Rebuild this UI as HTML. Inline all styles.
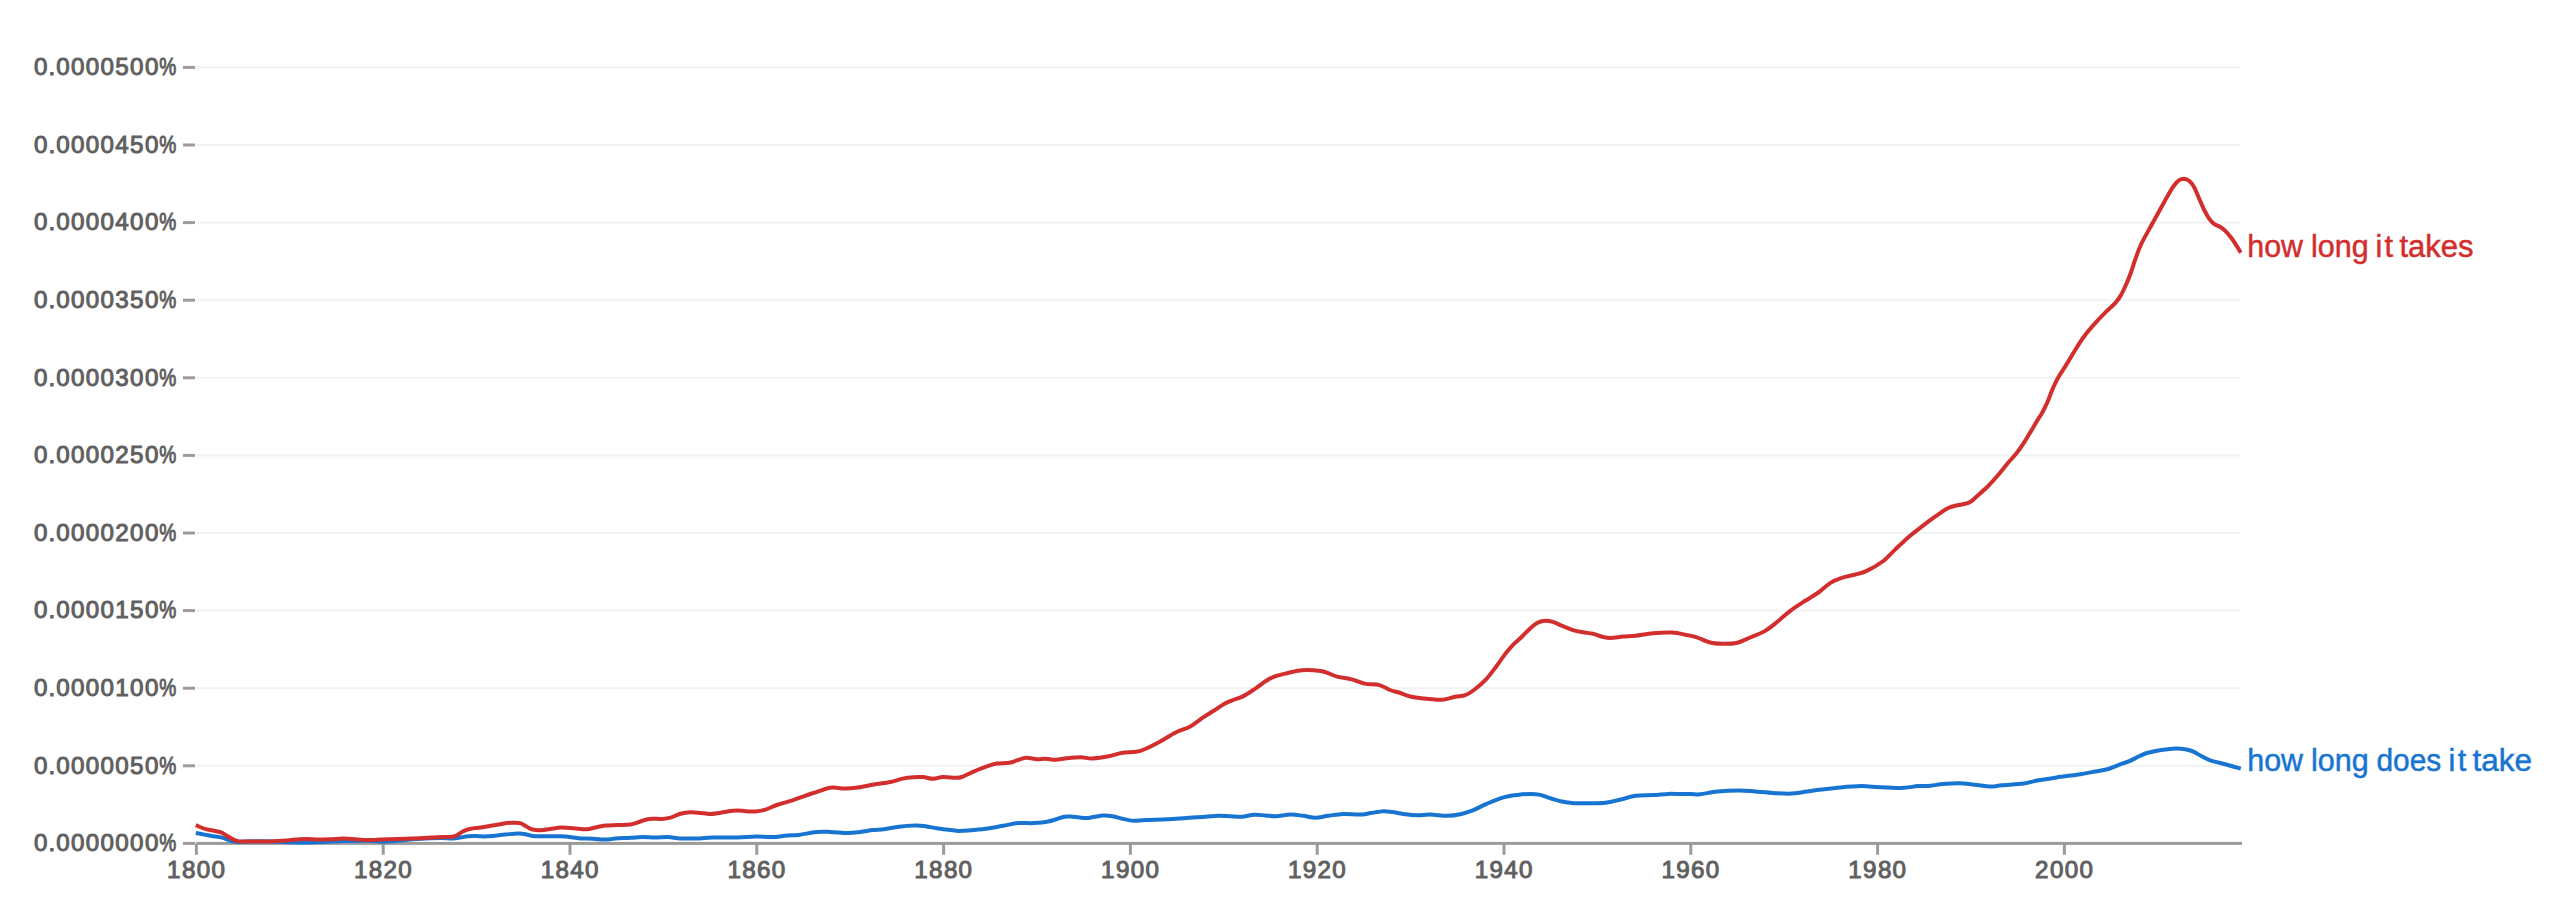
<!DOCTYPE html>
<html lang="en"><head><meta charset="utf-8"><title>Ngram</title>
<style>html,body{margin:0;padding:0;background:#fff;}svg{display:block;}text{font-family:"Liberation Sans",sans-serif;}.ax{fill:#606060;stroke:#606060;stroke-width:1px;font-size:24.2px;}.lb{font-size:30.6px;}</style></head><body>
<svg width="2560" height="902" viewBox="0 0 2560 902">
<rect width="2560" height="902" fill="#fff"/>
<rect x="196.3" y="764.8" width="2044.7" height="2" fill="#f2f2f2"/>
<rect x="196.3" y="687.2" width="2044.7" height="2" fill="#f2f2f2"/>
<rect x="196.3" y="609.6" width="2044.7" height="2" fill="#f2f2f2"/>
<rect x="196.3" y="532.0" width="2044.7" height="2" fill="#f2f2f2"/>
<rect x="196.3" y="454.4" width="2044.7" height="2" fill="#f2f2f2"/>
<rect x="196.3" y="376.8" width="2044.7" height="2" fill="#f2f2f2"/>
<rect x="196.3" y="299.2" width="2044.7" height="2" fill="#f2f2f2"/>
<rect x="196.3" y="221.6" width="2044.7" height="2" fill="#f2f2f2"/>
<rect x="196.3" y="144.0" width="2044.7" height="2" fill="#f2f2f2"/>
<rect x="196.3" y="66.4" width="2044.7" height="2" fill="#f2f2f2"/>
<rect x="183" y="841.9" width="12" height="3" fill="#9b9b9b"/>
<text class="ax" x="34.1 48.6 56.3 71.0 85.8 100.6 115.3 130.1 144.9 159.2" y="851.1">0.0000000<tspan textLength="17" lengthAdjust="spacingAndGlyphs">%</tspan></text>
<rect x="183" y="764.3" width="12" height="3" fill="#9b9b9b"/>
<text class="ax" x="34.1 48.6 56.3 71.0 85.8 100.6 115.3 130.1 144.9 159.2" y="773.5">0.0000050<tspan textLength="17" lengthAdjust="spacingAndGlyphs">%</tspan></text>
<rect x="183" y="686.7" width="12" height="3" fill="#9b9b9b"/>
<text class="ax" x="34.1 48.6 56.3 71.0 85.8 100.6 115.3 130.1 144.9 159.2" y="695.9">0.0000100<tspan textLength="17" lengthAdjust="spacingAndGlyphs">%</tspan></text>
<rect x="183" y="609.1" width="12" height="3" fill="#9b9b9b"/>
<text class="ax" x="34.1 48.6 56.3 71.0 85.8 100.6 115.3 130.1 144.9 159.2" y="618.3">0.0000150<tspan textLength="17" lengthAdjust="spacingAndGlyphs">%</tspan></text>
<rect x="183" y="531.5" width="12" height="3" fill="#9b9b9b"/>
<text class="ax" x="34.1 48.6 56.3 71.0 85.8 100.6 115.3 130.1 144.9 159.2" y="540.7">0.0000200<tspan textLength="17" lengthAdjust="spacingAndGlyphs">%</tspan></text>
<rect x="183" y="453.9" width="12" height="3" fill="#9b9b9b"/>
<text class="ax" x="34.1 48.6 56.3 71.0 85.8 100.6 115.3 130.1 144.9 159.2" y="463.1">0.0000250<tspan textLength="17" lengthAdjust="spacingAndGlyphs">%</tspan></text>
<rect x="183" y="376.3" width="12" height="3" fill="#9b9b9b"/>
<text class="ax" x="34.1 48.6 56.3 71.0 85.8 100.6 115.3 130.1 144.9 159.2" y="385.5">0.0000300<tspan textLength="17" lengthAdjust="spacingAndGlyphs">%</tspan></text>
<rect x="183" y="298.7" width="12" height="3" fill="#9b9b9b"/>
<text class="ax" x="34.1 48.6 56.3 71.0 85.8 100.6 115.3 130.1 144.9 159.2" y="307.9">0.0000350<tspan textLength="17" lengthAdjust="spacingAndGlyphs">%</tspan></text>
<rect x="183" y="221.1" width="12" height="3" fill="#9b9b9b"/>
<text class="ax" x="34.1 48.6 56.3 71.0 85.8 100.6 115.3 130.1 144.9 159.2" y="230.3">0.0000400<tspan textLength="17" lengthAdjust="spacingAndGlyphs">%</tspan></text>
<rect x="183" y="143.5" width="12" height="3" fill="#9b9b9b"/>
<text class="ax" x="34.1 48.6 56.3 71.0 85.8 100.6 115.3 130.1 144.9 159.2" y="152.7">0.0000450<tspan textLength="17" lengthAdjust="spacingAndGlyphs">%</tspan></text>
<rect x="183" y="65.9" width="12" height="3" fill="#9b9b9b"/>
<text class="ax" x="34.1 48.6 56.3 71.0 85.8 100.6 115.3 130.1 144.9 159.2" y="75.1">0.0000500<tspan textLength="17" lengthAdjust="spacingAndGlyphs">%</tspan></text>
<rect x="196.4" y="841.9" width="2045.6" height="3" fill="#9b9b9b"/>
<rect x="194.9" y="843.4" width="3" height="11.4" fill="#9b9b9b"/>
<text class="ax" x="167.1 181.9 196.7 211.4" y="877.9">1800</text>
<rect x="381.7" y="843.4" width="3" height="11.4" fill="#9b9b9b"/>
<text class="ax" x="353.9 368.7 383.5 398.2" y="877.9">1820</text>
<rect x="568.5" y="843.4" width="3" height="11.4" fill="#9b9b9b"/>
<text class="ax" x="540.7 555.5 570.3 585.0" y="877.9">1840</text>
<rect x="755.3" y="843.4" width="3" height="11.4" fill="#9b9b9b"/>
<text class="ax" x="727.5 742.3 757.1 771.8" y="877.9">1860</text>
<rect x="942.1" y="843.4" width="3" height="11.4" fill="#9b9b9b"/>
<text class="ax" x="914.3 929.1 943.9 958.6" y="877.9">1880</text>
<rect x="1128.9" y="843.4" width="3" height="11.4" fill="#9b9b9b"/>
<text class="ax" x="1101.1 1115.9 1130.7 1145.4" y="877.9">1900</text>
<rect x="1315.7" y="843.4" width="3" height="11.4" fill="#9b9b9b"/>
<text class="ax" x="1287.9 1302.7 1317.5 1332.2" y="877.9">1920</text>
<rect x="1502.5" y="843.4" width="3" height="11.4" fill="#9b9b9b"/>
<text class="ax" x="1474.7 1489.5 1504.3 1519.0" y="877.9">1940</text>
<rect x="1689.3" y="843.4" width="3" height="11.4" fill="#9b9b9b"/>
<text class="ax" x="1661.5 1676.3 1691.1 1705.8" y="877.9">1960</text>
<rect x="1876.1" y="843.4" width="3" height="11.4" fill="#9b9b9b"/>
<text class="ax" x="1848.3 1863.1 1877.9 1892.6" y="877.9">1980</text>
<rect x="2062.9" y="843.4" width="3" height="11.4" fill="#9b9b9b"/>
<text class="ax" x="2035.1 2049.9 2064.7 2079.4" y="877.9">2000</text>
<path d="M195.8,832.9C197.1,833.1 200.9,833.9 203.5,834.4C206.1,834.9 208.7,835.6 211.3,836.0C213.9,836.4 217.1,836.7 219.0,837.0C220.9,837.3 221.6,837.5 222.9,837.9C224.2,838.3 225.5,838.9 226.8,839.4C228.1,839.9 229.4,840.4 230.7,840.8C232.0,841.2 233.3,841.4 234.6,841.6C235.9,841.8 236.7,842.0 238.4,842.0C240.1,842.0 241.7,841.5 245.0,841.4C248.3,841.3 253.8,841.3 258.0,841.3C262.2,841.3 266.3,841.4 270.0,841.5C273.7,841.6 276.3,841.7 280.0,841.8C283.7,841.9 287.7,842.1 292.0,842.2C296.3,842.3 301.7,842.4 306.0,842.4C310.3,842.4 314.0,842.2 318.0,842.1C322.0,842.0 326.0,841.8 330.0,841.6C334.0,841.4 337.8,841.1 342.0,841.0C346.2,840.9 350.7,840.9 355.0,840.9C359.3,840.9 363.4,840.7 368.0,840.8C372.6,840.9 378.5,841.6 382.5,841.7C386.5,841.8 388.7,841.5 392.0,841.2C395.3,841.0 397.7,840.6 402.5,840.2C407.3,839.8 414.8,839.2 421.0,838.8C427.2,838.4 434.8,838.1 440.0,838.0C445.2,837.9 449.2,838.5 452.5,838.4C455.8,838.3 457.4,838.0 460.0,837.6C462.6,837.2 465.3,836.5 468.0,836.3C470.7,836.0 473.4,836.1 476.0,836.1C478.6,836.1 481.1,836.4 483.8,836.4C486.6,836.4 489.0,836.3 492.5,836.0C496.0,835.7 500.8,835.0 505.0,834.6C509.2,834.2 514.5,833.5 517.6,833.4C520.8,833.3 521.4,833.6 523.9,834.0C526.4,834.4 529.5,835.5 532.6,835.9C535.7,836.3 537.9,836.2 542.7,836.2C547.5,836.2 556.9,836.1 561.5,836.2C566.1,836.4 567.1,836.7 570.2,837.1C573.3,837.5 576.5,838.1 580.3,838.4C584.1,838.7 588.6,838.5 592.8,838.7C597.0,838.9 601.5,839.6 605.3,839.6C609.0,839.6 611.1,838.9 615.3,838.6C619.5,838.3 625.8,838.0 630.4,837.7C635.0,837.5 638.7,837.1 642.9,837.1C647.1,837.1 651.2,837.5 655.4,837.5C659.6,837.5 663.8,837.0 668.0,837.1C672.2,837.2 675.3,838.2 680.5,838.4C685.7,838.6 694.1,838.5 699.3,838.4C704.5,838.2 705.5,837.6 711.8,837.5C718.1,837.4 729.6,837.7 736.9,837.5C744.2,837.3 749.9,836.6 755.7,836.5C761.6,836.4 766.8,837.3 772.0,837.1C777.2,836.9 782.5,835.9 787.0,835.5C791.5,835.1 793.9,835.5 798.8,834.9C803.7,834.3 811.1,832.6 816.3,832.1C821.5,831.6 824.9,831.8 830.1,831.9C835.3,832.0 842.7,833.0 847.7,833.0C852.7,833.0 856.0,832.4 860.2,831.9C864.4,831.4 868.7,830.5 872.7,830.0C876.7,829.5 879.6,829.8 884.0,829.2C888.4,828.7 893.8,827.3 899.0,826.7C904.2,826.1 910.9,825.7 915.3,825.6C919.7,825.5 921.8,825.8 925.4,826.2C929.0,826.7 933.0,827.7 936.6,828.3C940.2,828.9 943.2,829.2 946.7,829.6C950.2,830.0 954.4,830.8 957.9,830.9C961.4,831.0 963.4,830.9 968.0,830.5C972.6,830.1 979.6,829.5 985.5,828.7C991.4,827.9 997.7,826.7 1003.1,825.8C1008.5,824.9 1012.9,823.5 1018.1,823.1C1023.3,822.7 1029.4,823.4 1034.4,823.1C1039.4,822.8 1043.2,822.5 1048.2,821.5C1053.2,820.5 1060.3,817.6 1064.5,816.8C1068.7,816.0 1070.1,816.6 1073.2,816.8C1076.3,817.0 1080.5,817.8 1083.3,817.9C1086.1,818.0 1086.8,818.1 1090.0,817.7C1093.2,817.3 1098.8,815.9 1102.6,815.6C1106.4,815.4 1109.3,815.7 1112.6,816.2C1115.9,816.7 1119.0,817.9 1122.6,818.7C1126.1,819.5 1130.1,820.6 1133.9,820.8C1137.7,821.0 1139.6,820.3 1145.2,820.0C1150.8,819.7 1160.8,819.6 1167.7,819.2C1174.6,818.9 1180.2,818.3 1186.5,817.9C1192.8,817.5 1200.1,817.1 1205.3,816.7C1210.5,816.4 1213.6,815.9 1217.8,815.8C1222.0,815.7 1226.4,816.1 1230.4,816.2C1234.4,816.4 1237.7,816.9 1241.7,816.7C1245.7,816.5 1250.2,815.0 1254.2,814.8C1258.2,814.6 1262.0,815.2 1265.5,815.4C1269.0,815.6 1271.3,816.3 1275.5,816.2C1279.7,816.1 1285.9,814.7 1290.5,814.6C1295.1,814.5 1298.9,815.3 1303.1,815.8C1307.3,816.3 1311.4,817.7 1315.6,817.7C1319.8,817.7 1323.5,816.4 1328.1,815.8C1332.7,815.2 1338.0,814.1 1343.2,813.9C1348.4,813.7 1354.8,814.7 1359.4,814.6C1364.0,814.5 1366.7,813.7 1370.7,813.1C1374.7,812.5 1379.7,811.4 1383.3,811.2C1386.9,811.0 1388.9,811.6 1392.5,812.1C1396.1,812.6 1400.9,813.7 1405.1,814.2C1409.3,814.7 1413.4,815.1 1417.6,815.2C1421.8,815.3 1425.1,814.5 1430.1,814.6C1435.1,814.7 1442.7,815.9 1447.7,815.8C1452.7,815.7 1456.0,815.1 1460.2,814.2C1464.4,813.3 1468.3,812.1 1472.7,810.4C1477.1,808.7 1481.5,806.0 1486.5,803.9C1491.5,801.8 1497.6,799.1 1502.8,797.6C1508.0,796.1 1513.2,795.5 1517.8,794.9C1522.4,794.3 1526.6,793.9 1530.4,793.9C1534.2,793.9 1537.3,794.2 1540.4,794.9C1543.5,795.6 1545.9,796.8 1549.2,797.9C1552.5,799.0 1556.8,800.4 1560.5,801.2C1564.2,802.1 1567.3,802.6 1571.7,803.0C1576.1,803.4 1581.2,803.3 1586.8,803.3C1592.4,803.2 1600.0,803.3 1605.6,802.7C1611.2,802.1 1615.6,800.6 1620.6,799.5C1625.6,798.4 1630.2,796.5 1635.6,795.8C1641.0,795.1 1647.8,795.4 1653.2,795.1C1658.6,794.8 1663.6,794.1 1668.2,793.9C1672.8,793.7 1677.0,794.1 1680.8,794.1C1684.6,794.1 1688.1,793.9 1691.3,793.9C1694.5,793.9 1695.6,794.7 1700.0,794.3C1704.4,793.9 1711.1,792.0 1717.6,791.4C1724.1,790.8 1732.6,790.4 1738.9,790.4C1745.2,790.4 1748.7,790.9 1755.2,791.4C1761.7,791.9 1771.7,792.9 1777.7,793.3C1783.8,793.7 1786.9,793.9 1791.5,793.6C1796.1,793.4 1800.3,792.5 1805.3,791.8C1810.3,791.1 1815.8,790.2 1821.6,789.5C1827.4,788.8 1833.7,788.0 1840.4,787.4C1847.1,786.8 1855.9,786.2 1861.7,786.1C1867.5,786.0 1869.0,786.7 1875.5,787.0C1882.0,787.3 1893.5,788.1 1900.6,788.0C1907.7,787.9 1913.1,786.5 1918.1,786.1C1923.1,785.7 1926.4,786.1 1930.6,785.7C1934.8,785.3 1938.4,784.3 1943.2,783.9C1948.0,783.5 1954.2,783.1 1959.4,783.2C1964.6,783.3 1969.2,784.2 1974.5,784.7C1979.8,785.2 1986.4,786.4 1991.0,786.5C1995.6,786.6 1996.5,785.7 2002.0,785.2C2007.5,784.7 2018.1,784.4 2023.9,783.6C2029.8,782.8 2031.6,781.5 2037.1,780.5C2042.6,779.5 2049.9,778.4 2056.8,777.4C2063.8,776.4 2072.4,775.5 2078.8,774.5C2085.2,773.5 2090.4,772.4 2095.3,771.5C2100.2,770.6 2104.6,770.1 2108.4,769.0C2112.2,767.9 2114.8,766.4 2118.3,765.1C2121.8,763.8 2125.8,762.6 2129.3,761.1C2132.8,759.6 2136.1,757.7 2139.2,756.3C2142.3,754.9 2144.2,753.8 2147.9,752.8C2151.6,751.8 2156.5,750.7 2161.1,750.0C2165.7,749.3 2171.4,748.5 2175.4,748.4C2179.4,748.3 2182.4,748.7 2185.3,749.2C2188.2,749.7 2190.3,750.2 2193.0,751.4C2195.7,752.6 2198.8,754.8 2201.7,756.3C2204.6,757.8 2207.6,759.4 2210.5,760.5C2213.4,761.6 2216.0,761.8 2219.3,762.7C2222.6,763.6 2226.7,764.7 2230.3,765.7C2233.9,766.7 2239.1,768.1 2240.8,768.6" fill="none" stroke="#1874d1" stroke-width="4" stroke-linejoin="round"/>
<path d="M195.8,825.2C197.1,825.7 200.9,827.4 203.5,828.3C206.1,829.1 208.7,829.7 211.3,830.3C213.9,830.9 217.1,831.3 219.0,831.8C220.9,832.3 221.6,832.5 222.9,833.2C224.2,833.9 225.5,835.0 226.8,835.8C228.1,836.6 229.4,837.4 230.7,838.1C232.0,838.8 233.3,839.7 234.6,840.2C235.9,840.7 237.1,841.0 238.4,841.2C239.7,841.4 237.4,841.5 242.3,841.5C247.2,841.5 260.3,841.6 267.7,841.4C275.1,841.2 281.3,840.9 286.5,840.5C291.7,840.1 295.4,839.5 299.0,839.3C302.6,839.0 304.7,839.0 307.8,839.0C310.9,839.0 314.0,839.4 317.8,839.4C321.6,839.4 326.2,839.3 330.4,839.2C334.6,839.1 338.7,838.6 342.9,838.6C347.1,838.6 351.6,839.0 355.4,839.2C359.2,839.4 362.4,839.9 365.5,840.0C368.6,840.1 370.6,840.0 374.2,839.9C377.8,839.8 381.6,839.4 386.8,839.2C392.0,839.0 399.3,838.9 405.6,838.7C411.9,838.5 419.2,838.4 424.4,838.1C429.6,837.9 432.7,837.4 436.9,837.2C441.1,837.0 446.3,837.2 449.4,837.0C452.5,836.8 453.4,836.9 455.7,835.9C458.0,834.9 460.7,832.4 463.2,831.2C465.7,830.0 467.8,829.3 470.7,828.7C473.6,828.1 477.2,828.0 480.8,827.5C484.4,827.0 488.9,826.1 492.5,825.5C496.1,824.9 499.2,824.2 502.6,823.7C506.0,823.2 509.7,822.8 512.6,822.7C515.5,822.6 517.8,822.5 520.1,823.1C522.4,823.7 524.3,825.4 526.4,826.5C528.5,827.6 530.3,828.9 532.6,829.5C534.9,830.1 537.3,830.3 540.2,830.2C543.1,830.1 546.7,829.5 550.2,829.0C553.8,828.5 557.5,827.6 561.5,827.5C565.5,827.4 569.8,827.9 574.0,828.2C578.2,828.5 583.0,829.3 586.5,829.2C590.0,829.1 592.2,828.1 595.3,827.5C598.4,826.9 601.5,825.9 605.3,825.5C609.0,825.1 613.6,825.2 617.8,825.0C622.0,824.8 626.6,825.1 630.4,824.5C634.2,823.9 637.3,822.4 640.4,821.5C643.5,820.6 645.7,819.3 649.2,818.9C652.8,818.5 658.2,819.1 661.7,818.9C665.2,818.7 667.4,818.6 670.5,817.7C673.6,816.8 677.2,814.6 680.5,813.7C683.8,812.8 687.1,812.3 690.5,812.2C693.9,812.1 697.2,812.6 700.6,812.9C704.0,813.2 706.6,814.0 710.6,813.9C714.6,813.8 720.2,812.7 724.4,812.1C728.6,811.5 732.0,810.5 735.6,810.4C739.2,810.2 742.4,811.0 745.7,811.2C749.1,811.4 752.6,811.6 755.7,811.4C758.8,811.2 760.8,811.0 764.5,809.9C768.2,808.8 773.5,806.1 778.2,804.5C782.9,802.9 788.0,801.9 792.5,800.4C797.0,798.9 800.8,797.3 805.0,795.8C809.2,794.3 813.8,792.9 817.6,791.6C821.4,790.3 824.9,788.9 827.6,788.2C830.3,787.5 831.0,787.5 833.9,787.6C836.8,787.7 841.2,788.6 845.2,788.6C849.2,788.6 852.9,788.3 857.7,787.6C862.5,786.9 868.6,785.4 874.0,784.5C879.4,783.6 885.5,783.0 890.3,782.0C895.1,781.0 899.0,779.4 902.8,778.6C906.5,777.8 909.4,777.5 912.8,777.3C916.1,777.0 919.4,776.9 922.9,777.1C926.4,777.4 930.2,778.8 933.5,778.8C936.8,778.8 939.2,777.2 942.9,777.0C946.5,776.8 952.3,777.8 955.4,777.8C958.5,777.8 958.6,778.1 961.7,777.0C964.8,775.9 970.0,773.1 974.2,771.3C978.4,769.5 983.0,767.6 986.8,766.3C990.6,765.0 993.0,764.2 996.8,763.6C1000.5,763.0 1005.8,763.4 1009.3,762.8C1012.8,762.2 1015.3,760.8 1018.1,760.0C1020.9,759.2 1023.1,757.9 1026.2,757.8C1029.3,757.7 1033.7,759.0 1036.9,759.2C1040.2,759.4 1042.6,758.7 1045.7,758.8C1048.8,758.9 1052.2,759.9 1055.7,759.8C1059.2,759.7 1062.8,758.6 1067.0,758.2C1071.2,757.8 1076.5,757.3 1080.8,757.3C1085.0,757.3 1087.8,758.6 1092.5,758.4C1097.2,758.2 1104.0,757.2 1108.8,756.3C1113.6,755.4 1116.8,753.8 1121.4,753.0C1126.0,752.2 1132.4,752.5 1136.4,751.8C1140.4,751.1 1141.2,750.7 1145.2,749.0C1149.2,747.3 1155.2,744.2 1160.2,741.5C1165.2,738.8 1170.2,735.2 1175.2,732.7C1180.2,730.2 1185.7,728.9 1190.3,726.4C1194.9,723.9 1198.8,720.4 1202.8,717.7C1206.8,715.1 1210.5,712.8 1214.1,710.5C1217.6,708.2 1221.0,705.6 1224.1,703.9C1227.2,702.2 1229.8,701.4 1232.9,700.1C1236.0,698.9 1239.2,698.3 1242.9,696.4C1246.7,694.5 1251.6,691.1 1255.4,688.6C1259.2,686.1 1262.4,683.3 1265.5,681.3C1268.6,679.3 1270.9,677.9 1274.2,676.6C1277.5,675.3 1281.5,674.6 1285.5,673.6C1289.5,672.6 1294.5,671.3 1298.0,670.7C1301.5,670.1 1303.0,670.0 1306.8,670.0C1310.6,670.0 1317.0,670.5 1320.6,671.0C1324.1,671.5 1325.2,672.2 1328.1,673.2C1331.0,674.2 1334.1,675.9 1338.1,676.9C1342.1,677.9 1347.5,678.3 1351.9,679.4C1356.3,680.5 1359.9,682.6 1364.5,683.6C1369.1,684.6 1375.2,684.0 1379.5,685.1C1383.8,686.2 1386.8,688.8 1390.0,690.0C1393.2,691.2 1395.2,691.4 1398.8,692.5C1402.3,693.6 1407.1,695.7 1411.3,696.7C1415.5,697.7 1419.9,698.1 1423.9,698.6C1427.9,699.1 1431.8,699.4 1435.1,699.6C1438.4,699.8 1440.6,700.1 1443.9,699.6C1447.2,699.1 1451.7,697.4 1455.2,696.7C1458.8,696.0 1462.1,696.3 1465.2,695.2C1468.3,694.1 1470.7,692.5 1474.0,690.0C1477.3,687.5 1481.8,683.9 1485.3,680.2C1488.8,676.5 1492.0,672.1 1495.3,667.7C1498.6,663.3 1502.4,657.7 1505.3,653.9C1508.2,650.1 1510.1,647.9 1512.8,645.1C1515.5,642.3 1518.7,639.8 1521.6,637.0C1524.5,634.2 1527.7,630.6 1530.4,628.2C1533.1,625.8 1535.4,623.9 1537.9,622.6C1540.4,621.4 1542.9,620.8 1545.4,620.7C1547.9,620.6 1550.2,621.1 1552.9,621.9C1555.6,622.7 1558.4,624.3 1561.7,625.7C1565.0,627.1 1569.5,629.0 1573.0,630.1C1576.5,631.2 1579.7,631.7 1583.0,632.3C1586.3,632.9 1589.7,633.0 1593.0,633.8C1596.3,634.6 1600.2,636.3 1603.1,637.0C1606.0,637.7 1607.3,638.1 1610.6,638.0C1613.9,637.9 1618.9,637.0 1623.1,636.6C1627.3,636.2 1630.6,636.3 1635.6,635.7C1640.6,635.1 1647.1,633.7 1653.2,633.2C1659.3,632.7 1666.6,632.3 1672.0,632.6C1677.4,632.9 1681.8,634.0 1685.8,634.8C1689.8,635.5 1692.2,635.8 1696.3,637.1C1700.3,638.4 1705.7,641.4 1710.1,642.5C1714.5,643.6 1718.2,643.7 1722.6,643.8C1727.0,643.9 1731.8,644.0 1736.4,643.0C1741.0,642.0 1745.4,639.5 1750.2,637.5C1755.0,635.5 1760.6,633.6 1765.2,630.9C1769.8,628.2 1773.5,624.9 1777.7,621.5C1781.9,618.1 1785.7,614.2 1790.3,610.8C1794.9,607.3 1800.5,603.9 1805.3,600.8C1810.1,597.7 1814.9,595.0 1819.1,592.0C1823.3,589.0 1826.6,585.3 1830.4,582.9C1834.2,580.5 1837.5,579.2 1841.7,577.8C1845.9,576.4 1851.2,575.6 1855.4,574.5C1859.6,573.4 1862.2,573.1 1866.7,570.9C1871.2,568.7 1877.9,565.0 1882.6,561.5C1887.3,558.0 1891.1,553.4 1895.1,549.6C1899.1,545.8 1902.7,542.2 1906.4,538.9C1910.2,535.6 1913.6,533.0 1917.6,529.9C1921.6,526.8 1926.4,522.9 1930.2,520.1C1934.0,517.3 1937.3,515.2 1940.2,513.2C1943.1,511.2 1945.2,509.4 1947.7,508.2C1950.2,506.9 1952.3,506.4 1955.2,505.7C1958.1,505.0 1962.8,504.4 1965.3,503.8C1967.8,503.2 1968.6,503.0 1970.5,501.8C1972.4,500.6 1973.7,499.1 1976.6,496.5C1979.5,493.9 1984.0,490.2 1987.7,486.5C1991.4,482.8 1995.5,478.2 1998.8,474.3C2002.1,470.4 2004.8,466.7 2007.7,463.2C2010.7,459.7 2013.7,456.8 2016.5,453.3C2019.3,449.8 2021.9,445.9 2024.3,442.2C2026.7,438.5 2028.9,434.6 2031.0,431.1C2033.1,427.6 2035.2,424.0 2037.0,421.0C2038.8,418.0 2040.2,416.3 2041.9,413.2C2043.6,410.1 2045.4,406.6 2047.2,402.6C2049.0,398.6 2050.7,393.4 2052.5,389.3C2054.3,385.2 2055.3,382.6 2057.8,378.2C2060.3,373.8 2064.2,368.2 2067.3,363.1C2070.4,358.0 2073.7,352.4 2076.6,347.8C2079.5,343.2 2081.5,339.9 2084.6,335.8C2087.7,331.7 2091.6,327.2 2095.2,323.2C2098.8,319.2 2102.6,315.2 2105.9,311.9C2109.2,308.6 2112.8,305.9 2115.2,303.2C2117.6,300.5 2118.7,298.9 2120.5,295.9C2122.3,292.9 2124.0,289.3 2125.8,285.3C2127.6,281.3 2129.5,276.4 2131.1,272.0C2132.7,267.6 2133.7,263.7 2135.4,259.0C2137.1,254.3 2138.6,249.5 2141.3,243.9C2144.0,238.3 2148.3,230.9 2151.4,225.2C2154.5,219.5 2157.4,214.4 2160.1,209.5C2162.8,204.6 2165.4,199.7 2167.7,195.7C2170.0,191.7 2172.0,188.2 2173.9,185.7C2175.8,183.1 2177.2,181.6 2178.9,180.4C2180.6,179.2 2182.2,178.8 2183.9,178.8C2185.6,178.9 2187.2,179.3 2188.9,180.7C2190.6,182.0 2192.3,184.0 2194.0,186.9C2195.7,189.8 2197.3,194.4 2199.0,198.2C2200.7,202.0 2202.3,206.2 2204.0,209.5C2205.7,212.8 2207.3,215.9 2209.0,218.3C2210.7,220.7 2212.1,222.5 2214.0,223.9C2215.9,225.3 2218.4,225.8 2220.3,227.0C2222.2,228.2 2223.4,228.9 2225.3,230.8C2227.2,232.7 2229.7,235.8 2231.6,238.3C2233.5,240.8 2235.1,243.4 2236.6,245.8C2238.1,248.2 2240.1,251.5 2240.8,252.7" fill="none" stroke="#d32e2e" stroke-width="4" stroke-linejoin="round"/>
<text class="lb" y="256.9" fill="#d32e2e" stroke="#d32e2e" stroke-width="0.5"><tspan x="2247.3" textLength="55.7" lengthAdjust="spacingAndGlyphs">how</tspan> <tspan x="2311.0" textLength="57.7" lengthAdjust="spacingAndGlyphs">long</tspan> <tspan x="2375.5" textLength="17.6" lengthAdjust="spacing">it</tspan> <tspan x="2399.5" textLength="74.1" lengthAdjust="spacingAndGlyphs">takes</tspan></text>
<text class="lb" y="770.9" fill="#1874d1" stroke="#1874d1" stroke-width="0.5"><tspan x="2247.3" textLength="55.7" lengthAdjust="spacingAndGlyphs">how</tspan> <tspan x="2311.0" textLength="57.7" lengthAdjust="spacingAndGlyphs">long</tspan> <tspan x="2376.5" textLength="64.7" lengthAdjust="spacingAndGlyphs">does</tspan> <tspan x="2448.6" textLength="17.6" lengthAdjust="spacing">it</tspan> <tspan x="2472.6" textLength="59.5" lengthAdjust="spacingAndGlyphs">take</tspan></text>
</svg></body></html>
